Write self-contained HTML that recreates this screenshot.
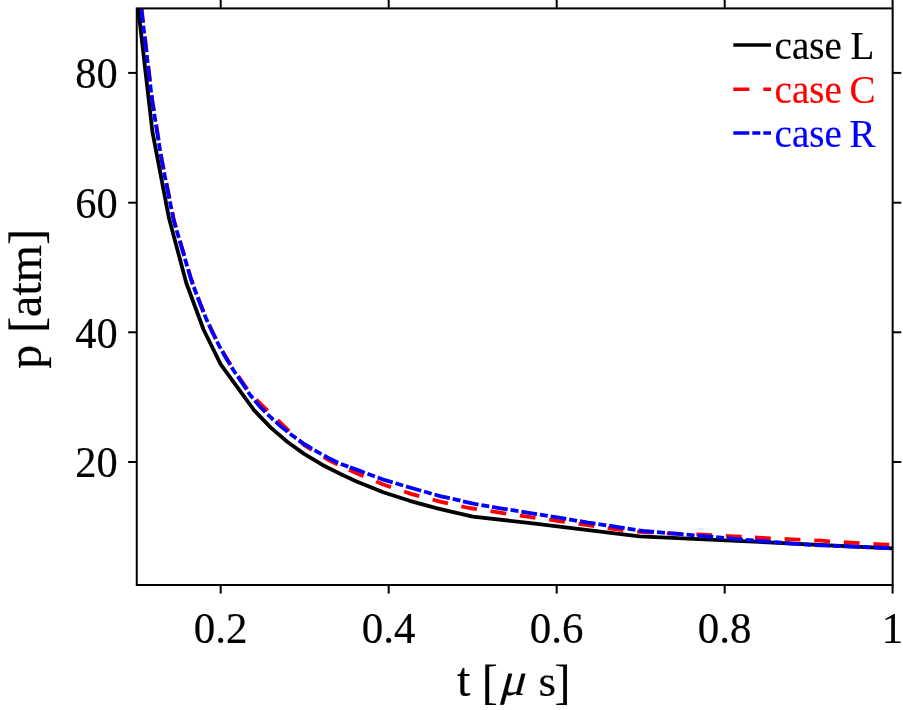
<!DOCTYPE html>
<html><head><meta charset="utf-8"><title>p vs t</title>
<style>
html,body{margin:0;padding:0;background:#fff;}
body{width:903px;height:710px;overflow:hidden;}
svg{display:block;}
text{font-family:"Liberation Serif","DejaVu Serif",serif;fill:#000;stroke:#000;stroke-width:0.2px;}
.tk{font-size:44.4px;}
.lg{font-size:39px;}
.ax{font-size:48px;}
</style></head><body>
<svg width="903" height="710" viewBox="0 0 903 710">
<rect x="0" y="0" width="903" height="710" fill="#fff"/>
<defs><clipPath id="cp"><rect x="136.8" y="8.4" width="755.9" height="576.6"/></clipPath></defs>

<g clip-path="url(#cp)" fill="none" stroke-linejoin="round">
<polyline points="137.6,3.0 138.2,8.4 152.4,131.6 169.0,218.3 186.3,283.0 203.5,329.5 220.7,364.4 254.2,410.4 270.8,427.6 287.2,441.7 304.1,453.9 322.1,464.7 340.0,473.7 356.6,481.5 383.2,492.2 409.7,500.8 436.3,508.1 450.0,511.4 472.8,516.7 528.6,522.8 639.6,536.3 892.6,548.3" stroke="#000" stroke-width="3.8"/>
<polyline points="141.4,7.0 152.3,100.0 161.9,160.0 173.9,220.0 191.5,280.0 195.6,291.0 200.7,304.5 206.2,318.0 212.0,330.8 219.5,345.8 225.8,356.8 233.8,369.7 242.4,382.0 250.9,394.3 261.3,404.6 282.7,424.9 304.1,445.1 330.0,460.9 349.0,469.8" stroke="#f00" stroke-width="3.8" stroke-dasharray="15.8 13.85"/>
<polyline points="349.0,469.8 356.6,473.3 383.2,484.5 411.1,493.9 441.0,501.8 461.3,506.3" stroke="#f00" stroke-width="3.8" stroke-dasharray="15.8 13.85"/>
<polyline points="461.3,506.3 469.2,508.0 498.5,512.4 527.7,516.7 556.9,520.8 588.0,525.2 607.7,528.1" stroke="#f00" stroke-width="3.8" stroke-dasharray="15.8 13.85"/>
<polyline points="607.7,528.1 614.8,529.2 643.2,532.2 675.0,533.7 703.3,534.7 733.2,536.3 755.0,537.5" stroke="#f00" stroke-width="3.8" stroke-dasharray="15.8 13.85"/>
<polyline points="755.0,537.5 762.4,537.9 792.1,539.3 821.2,540.7 851.0,542.7 880.8,544.3 892.6,544.9" stroke="#f00" stroke-width="3.8" stroke-dasharray="15.8 13.85"/>
<polyline points="141.1,7.0 152.0,100.0 161.6,160.0 173.6,220.0 191.2,280.0 195.3,291.0 200.4,304.5 205.9,318.0 211.7,330.8 219.2,345.8 225.4,357.0 233.3,370.0 241.8,382.4 250.2,395.0 259.6,406.4 270.3,417.0 280.4,426.0 291.7,435.0 304.1,444.0 316.5,451.3 330.0,458.8 340.0,463.7 349.9,467.2" stroke="#00f" stroke-width="3.8" stroke-dasharray="15.8 2.95 7.95 2.95"/>
<polyline points="349.9,467.2 356.6,469.6 383.2,479.6 412.4,488.2 441.0,496.4 450.0,498.2 463.0,501.3" stroke="#00f" stroke-width="3.8" stroke-dasharray="15.8 2.95 7.95 2.95"/>
<polyline points="463.0,501.3 471.9,503.4 500.2,508.3 528.6,512.8 558.7,517.7 588.0,522.6 600.0,524.3 609.1,525.7" stroke="#00f" stroke-width="3.8" stroke-dasharray="15.8 2.95 7.95 2.95"/>
<polyline points="609.1,525.7 616.6,526.9 643.2,531.0 675.0,533.7 704.0,536.1 733.9,538.8 755.3,540.6" stroke="#00f" stroke-width="3.8" stroke-dasharray="15.8 2.95 7.95 2.95"/>
<polyline points="755.3,540.6 763.1,541.2 792.3,543.6 810.0,544.9 892.6,548.2" stroke="#00f" stroke-width="3.8" stroke-dasharray="15.8 2.95 7.95 2.95"/>
</g>
<rect x="136.75" y="8.4" width="755.9" height="576.6" fill="none" stroke="#000" stroke-width="2"/>
<g stroke="#000" stroke-width="2">
<line x1="220.7" y1="584.95" x2="220.7" y2="593.5500000000001"/>
<line x1="220.7" y1="8.4" x2="220.7" y2="-0.1999999999999993"/>
<line x1="388.7" y1="584.95" x2="388.7" y2="593.5500000000001"/>
<line x1="388.7" y1="8.4" x2="388.7" y2="-0.1999999999999993"/>
<line x1="556.7" y1="584.95" x2="556.7" y2="593.5500000000001"/>
<line x1="556.7" y1="8.4" x2="556.7" y2="-0.1999999999999993"/>
<line x1="724.7" y1="584.95" x2="724.7" y2="593.5500000000001"/>
<line x1="724.7" y1="8.4" x2="724.7" y2="-0.1999999999999993"/>
<line x1="892.6" y1="584.95" x2="892.6" y2="593.5500000000001"/>
<line x1="892.6" y1="8.4" x2="892.6" y2="-0.1999999999999993"/>
<line x1="136.75" y1="72.9" x2="128.15" y2="72.9"/>
<line x1="892.65" y1="72.9" x2="901.25" y2="72.9"/>
<line x1="136.75" y1="202.7" x2="128.15" y2="202.7"/>
<line x1="892.65" y1="202.7" x2="901.25" y2="202.7"/>
<line x1="136.75" y1="332.3" x2="128.15" y2="332.3"/>
<line x1="892.65" y1="332.3" x2="901.25" y2="332.3"/>
<line x1="136.75" y1="462.0" x2="128.15" y2="462.0"/>
<line x1="892.65" y1="462.0" x2="901.25" y2="462.0"/>
</g>
<text class="tk" transform="translate(220.7,643.4) scale(0.968,1)" text-anchor="middle">0.2</text>
<text class="tk" transform="translate(388.7,643.4) scale(0.968,1)" text-anchor="middle">0.4</text>
<text class="tk" transform="translate(556.7,643.4) scale(0.968,1)" text-anchor="middle">0.6</text>
<text class="tk" transform="translate(724.7,643.4) scale(0.968,1)" text-anchor="middle">0.8</text>
<text class="tk" transform="translate(892.6,643.4) scale(0.968,1)" text-anchor="middle">1</text>
<text class="tk" transform="translate(117.7,88.3) scale(0.955,1)" text-anchor="end">80</text>
<text class="tk" transform="translate(117.7,218.1) scale(0.955,1)" text-anchor="end">60</text>
<text class="tk" transform="translate(117.7,347.7) scale(0.955,1)" text-anchor="end">40</text>
<text class="tk" transform="translate(117.7,477.4) scale(0.955,1)" text-anchor="end">20</text>
<text class="ax" x="457" y="696.3">t</text>
<text class="ax" x="481.8" y="697.8">[</text>
<text class="ax" transform="translate(498.8,695.0) skewX(-15) scale(1,0.96)">μ</text>
<text class="ax" x="538.5" y="695.8" style="font-size:45px">s</text>
<text class="ax" x="554.5" y="697.8">]</text>
<text class="ax" transform="translate(40.6,298.9) rotate(-90)" text-anchor="middle">p <tspan dy="1.7">[</tspan><tspan dy="-1.7">atm</tspan><tspan dy="1.7">]</tspan></text>
<g fill="none" stroke-width="3.6">
<line x1="733.3" y1="45" x2="771" y2="45" stroke="#000"/>
<line x1="733.3" y1="89.2" x2="771" y2="89.2" stroke="#f00" stroke-dasharray="16 14"/>
<line x1="733.3" y1="133" x2="771" y2="133" stroke="#00f" stroke-dasharray="16 3 8 3"/>
</g>
<text class="lg" x="774.6" y="58.6">case <tspan dx="-1">L</tspan></text>
<text class="lg" x="774.6" y="102.7" style="fill:#f00;stroke:#f00">case <tspan dx="-2">C</tspan></text>
<text class="lg" x="774.6" y="146.6" style="fill:#00f;stroke:#00f">case <tspan dx="-2">R</tspan></text>
</svg></body></html>
